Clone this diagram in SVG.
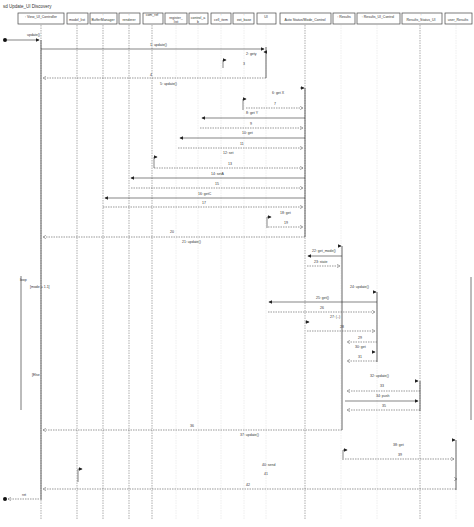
<svg xmlns="http://www.w3.org/2000/svg" width="474" height="527" viewBox="0 0 474 527">
<style>
text{font-family:"Liberation Sans",sans-serif;font-size:3.5px;fill:#333}
.b{fill:#fff;stroke:#444;stroke-width:0.7}
.ll{stroke:#777;stroke-width:0.6;stroke-dasharray:1.5 1}
.lf{stroke:#ddd;stroke-width:0.5;stroke-dasharray:1.5 1}
.act{stroke:#666;stroke-width:1;fill:none}
.m{stroke:#333;stroke-width:0.6;fill:none;marker-end:url(#f)}
.r{stroke:#555;stroke-width:0.6;fill:none;stroke-dasharray:1.5 1;marker-end:url(#o)}
.fr{stroke:#555;stroke-width:0.8;fill:none}
</style>
<defs>
<marker id="f" markerWidth="6" markerHeight="6" refX="5" refY="3" orient="auto"><path d="M0,0L6,3L0,6z" fill="#222"/></marker>
<marker id="o" markerWidth="6" markerHeight="6" refX="5" refY="3" orient="auto"><path d="M0,0L5,3L0,6" fill="none" stroke="#555" stroke-width="0.7"/></marker>
</defs>
<text x="3" y="8" style="font-size:4.5px">sd Update_UI Discovery</text>
<g id="lifelines">
<line class="ll" x1="41" y1="25" x2="41" y2="520"/>
<line class="ll" x1="77" y1="25" x2="77" y2="520"/>
<line class="ll" x1="103" y1="25" x2="103" y2="520"/>
<line class="ll" x1="129" y1="25" x2="129" y2="520"/>
<line class="ll" x1="152" y1="25" x2="152" y2="520"/>
<line class="lf" x1="176" y1="25" x2="176" y2="520"/>
<line class="lf" x1="198" y1="25" x2="198" y2="520"/>
<line class="lf" x1="221" y1="25" x2="221" y2="520"/>
<line class="lf" x1="244" y1="25" x2="244" y2="520"/>
<line class="lf" x1="266" y1="25" x2="266" y2="520"/>
<line class="ll" x1="305" y1="25" x2="305" y2="520"/>
<line class="lf" x1="341" y1="25" x2="341" y2="520"/>
<line class="lf" x1="377" y1="25" x2="377" y2="520"/>
<line class="ll" x1="420" y1="25" x2="420" y2="520"/>
<line class="lf" x1="456" y1="25" x2="456" y2="520"/>
</g>
<g id="nodes">
<g id="n1"><rect class="b" x="18" y="13" width="46" height="11"/><text x="41" y="18" text-anchor="middle">: View_UI_Controller</text></g>
<g id="n2"><rect class="b" x="67" y="13" width="21" height="11"/><text x="77" y="21" text-anchor="middle">model_list</text></g>
<g id="n3"><rect class="b" x="90" y="13" width="27" height="11"/><text x="103" y="16" text-anchor="middle">:</text><text x="103" y="21" text-anchor="middle">BufferManager</text></g>
<g id="n4"><rect class="b" x="119" y="13" width="21" height="11"/><text x="129" y="16" text-anchor="middle">:</text><text x="129" y="21" text-anchor="middle">renderer</text></g>
<g id="n5"><rect class="b" x="143" y="13" width="20" height="11"/><text x="152" y="16" text-anchor="middle">com_ref</text></g>
<g id="n6"><rect class="b" x="165" y="13" width="22" height="11"/><text x="176" y="19" text-anchor="middle">register_</text><text x="176" y="23" text-anchor="middle">list</text></g>
<g id="n7"><rect class="b" x="189" y="13" width="19" height="11"/><text x="198" y="19" text-anchor="middle">control_a</text><text x="198" y="23" text-anchor="middle">b</text></g>
<g id="n8"><rect class="b" x="211" y="13" width="20" height="11"/><text x="221" y="16" text-anchor="middle">:</text><text x="221" y="21" text-anchor="middle">cell_item</text></g>
<g id="n9"><rect class="b" x="233" y="13" width="21" height="11"/><text x="244" y="16" text-anchor="middle">:</text><text x="244" y="21" text-anchor="middle">ext_base</text></g>
<g id="n10"><rect class="b" x="257" y="13" width="19" height="11"/><text x="266" y="18" text-anchor="middle">UI</text></g>
<g id="n11"><rect class="b" x="280" y="13" width="51" height="11"/><text x="305" y="21" text-anchor="middle">Auto Status/Mode_Control</text></g>
<g id="n12"><rect class="b" x="333" y="13" width="22" height="11"/><text x="344" y="18" text-anchor="middle">: Results</text></g>
<g id="n13"><rect class="b" x="357" y="13" width="43" height="11"/><text x="378" y="18" text-anchor="middle">: Results_UI_Control</text></g>
<g id="n14"><rect class="b" x="402" y="13" width="40" height="11"/><text x="421" y="16" text-anchor="middle">:</text><text x="421" y="21" text-anchor="middle">Results_Status_UI</text></g>
<g id="n15"><rect class="b" x="445" y="13" width="27" height="11"/><text x="458" y="21" text-anchor="middle">user_Results</text></g>
</g>
<g id="frames">
<path class="fr" d="M21,276V410"/><text x="20" y="281">loop</text><text x="30" y="288">[mode = 1.1]</text>
<path class="fr" d="M471,277V420"/>
<text x="32" y="376">[Else</text>
</g>
<g id="activations">
<line class="act" x1="41" y1="40" x2="41" y2="500"/>
<line class="act" x1="266" y1="47" x2="266" y2="78"/>
<line class="act" x1="305" y1="88" x2="305" y2="237"/>
<line class="act" x1="342" y1="246" x2="342" y2="430"/>
<line class="act" x1="377" y1="292" x2="377" y2="362"/>
<line class="act" x1="420" y1="381" x2="420" y2="411"/>
<line class="act" x1="456" y1="440" x2="456" y2="490"/>
</g>
<g id="connectors">
<circle cx="5" cy="40" r="2" fill="#111"/><text x="27" y="36">update()</text>
<path class="m" d="M7,40H39"/>
<path class="m" d="M41,49H264"/><text x="150" y="46">1: update()</text>
<path class="m" d="M266,52h-2" /><text x="246" y="55">2: gety</text>
<path class="m" d="M223,68V60h3"/><text x="243" y="65">3</text>
<path class="r" d="M266,78H43"/><text x="150" y="76">4</text>
<text x="160" y="85">5: update()</text><path class="m" d="M300,88h4"/>
<text x="272" y="94">6: get X</text><path class="m" d="M243,110V99h3"/>
<path class="r" d="M246,108H303"/><text x="274" y="105">7</text>
<text x="246" y="114">8: get Y</text>
<path class="m" d="M305,118H202"/><path class="r" d="M200,128H303"/><text x="250" y="125">9</text>
<text x="242" y="134">10: get</text>
<path class="m" d="M305,138H180"/><path class="r" d="M178,148H303"/><text x="240" y="145">11</text>
<text x="223" y="154">12: set</text>
<path class="m" d="M154,168V157h3"/><path class="r" d="M154,168H303"/><text x="228" y="165">13</text>
<path class="m" d="M305,178H131"/><text x="211" y="175">14: setA</text>
<path class="r" d="M131,188H303"/><text x="215" y="185">15</text>
<path class="m" d="M305,198H105"/><text x="198" y="195">16: getC</text>
<path class="r" d="M103,207H303"/><text x="202" y="204">17</text>
<text x="280" y="214">18: get</text><path class="m" d="M267,228V217h4"/>
<path class="r" d="M268,227H303"/><text x="284" y="224">19</text>
<path class="r" d="M305,237H43"/><text x="170" y="233">20</text>
<text x="182" y="243">21: update()</text>
<path class="m" d="M338,246h3"/>
<text x="312" y="252">22: get_mode()</text><path class="m" d="M342,256H308"/>
<path class="r" d="M307,266H340"/><text x="314" y="263">23: state</text>
<text x="350" y="288">24: update()</text><path class="m" d="M373,292h3"/>
<path class="m" d="M377,302H269"/><text x="316" y="299">25: get()</text>
<path class="r" d="M268,312H375"/><text x="320" y="309">26</text>
<text x="330" y="318">27: (..)</text><path class="m" d="M305,322h4"/>
<path class="r" d="M307,331H375"/><text x="340" y="328">28</text>
<path class="r" d="M377,342H347"/><text x="358" y="339">29</text>
<text x="355" y="348">30: get</text><path class="m" d="M372,352h3"/>
<path class="r" d="M377,361H347"/><text x="358" y="358">31</text>
<text x="370" y="377">32: update()</text><path class="m" d="M415,381h3"/>
<path class="r" d="M420,391H347"/><text x="380" y="387">33</text>
<path class="m" d="M345,401H418"/><text x="376" y="397">34: push</text>
<path class="r" d="M420,410H347"/><text x="382" y="407">35</text>
<path class="r" d="M342,430H43"/><text x="190" y="427">36</text>
<text x="240" y="436">37: update()</text>
<path class="m" d="M452,440h3"/><text x="393" y="446">38: get</text>
<path class="m" d="M343,460V450h4"/>
<path class="r" d="M345,459H454"/><text x="398" y="456">39</text>
<path class="r" d="M455,479h2"/>
<text x="262" y="466">40: send</text><path class="m" d="M78,482V469h4"/><text x="264" y="475">41</text>
<path class="r" d="M456,489H43"/><text x="246" y="486">42</text>
<path class="r" d="M39,499H8"/><circle cx="5" cy="499" r="2" fill="#111"/><text x="22" y="496">ret</text>
</g>
</svg>
